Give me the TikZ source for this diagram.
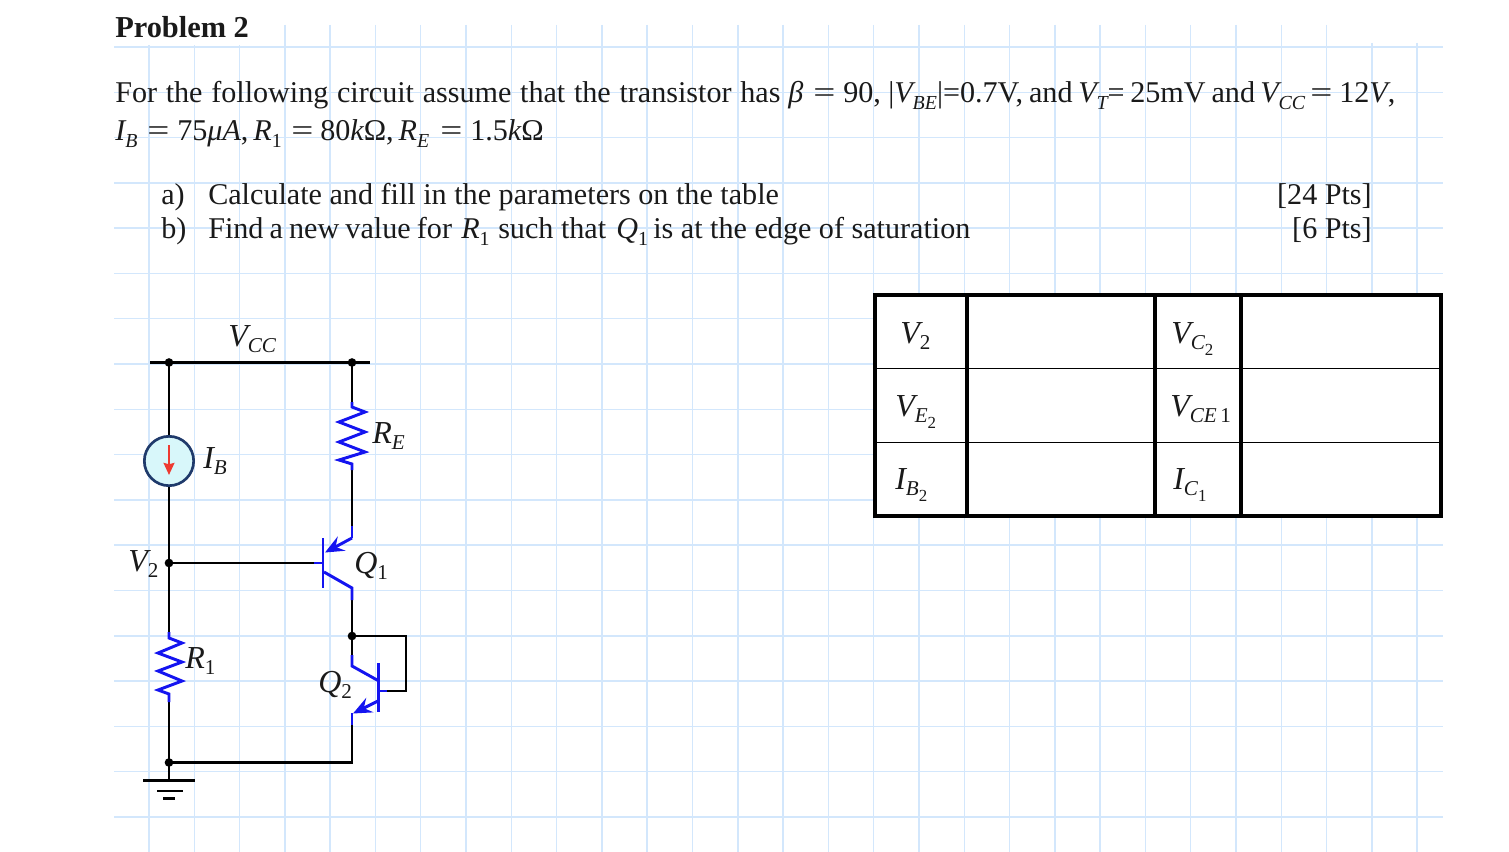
\documentclass[tikz,border=0pt]{standalone}
\usepackage{fontspec}
\usepackage{graphicx}
\setmainfont{Liberation Serif}
\usetikzlibrary{arrows.meta}
\definecolor{gridc}{HTML}{D3E7FC}
\definecolor{zblue}{HTML}{1414F0}
\definecolor{srcfill}{HTML}{D8F7FA}
\definecolor{srcline}{HTML}{1F3A6B}
\definecolor{srcarrow}{HTML}{EE3A30}
\definecolor{inkc}{HTML}{1A1A1A}
\newcommand{\iv}[1]{{\itshape #1}}
\newcommand{\subb}[1]{\raisebox{-0.2em}{\fontsize{0.66em}{1em}\selectfont #1}}
\newcommand{\subi}[1]{\subb{\iv{#1}}}
\newcommand{\subii}[2]{\subb{\iv{#1}\raisebox{-0.3em}{\fontsize{0.8em}{1em}\selectfont #2}}}
\newcommand{\eqs}{\scalebox{1.3}[1]{=}}
\tikzset{
  x=0.75pt,y=-0.75pt,
  gridline/.style={gridc,line width=1.1pt},
  wire/.style={black,line width=2.2pt,line join=miter},
  part/.style={zblue,line width=2.2pt,line join=miter},
  tip/.style={zblue,line width=2.2pt,-{Stealth[length=14pt,width=12pt,inset=5pt]}},
  thickrule/.style={black,line width=2.8pt},
  thinrule/.style={black,line width=0.8pt},
  joint/.style={circle,fill=black,inner sep=0pt,outer sep=0pt,minimum size=6.5pt},
  txt/.style={anchor=base west,inner sep=0pt,text=inkc,font=\fontsize{22.6pt}{24pt}\selectfont},
  tlab/.style={anchor=base west,inner sep=0pt,text=inkc,font=\fontsize{24pt}{26pt}\selectfont},
}
\begin{document}
\begin{tikzpicture}
\useasboundingbox (0,0) rectangle (1509,852);
\fill[white] (0,0) rectangle (1509,852);
% ruled grid
\foreach \k in {0,...,17} \draw[gridline] (114,47+\k*45.29) -- (1443,47+\k*45.29);
\foreach \k in {0,...,26} \draw[gridline] (149+\k*45.29,25) -- (149+\k*45.29,852);
\foreach \k in {27,28} \draw[gridline] (149+\k*45.29,43) -- (149+\k*45.29,852);
% text
\fill[white] (114,10) rectangle (251,45);
\node[txt,font=\fontsize{22.8pt}{24pt}\bfseries\selectfont] (title) at (115,38) {Problem 2};
\node[txt] (l1a) at (115,103) {\spaceskip=6.5pt For the following circuit assume that the transistor has};
\node[txt] (l1b) at (788,103) {\iv{β}};
\node[txt] (l1c) at (813,103) {\eqs};
\node[txt] (l1d) at (843,103) {90,};
\node[txt] (l1e) at (888,103) {\spaceskip=4.5pt |\iv{V}\subi{BE}|=0.7V, and};
\node[txt] (l1f) at (1078,103) {\iv{V}\subi{T}=};
\node[txt] (l1g) at (1130,103) {\spaceskip=4.5pt 25mV and};
\node[txt] (l1h) at (1260,103) {\iv{V}\subi{CC}};
\node[txt] (l1i) at (1310,103) {\eqs};
\node[txt] (l1j) at (1339,103) {12\iv{V},};
\node[txt] (l2a) at (115,141) {\iv{I}\subi{B}};
\node[txt] (l2b) at (147,141) {\eqs};
\node[txt] (l2c) at (177,141) {75\iv{μA},\,\iv{R}\subb{1}};
\node[txt] (l2d) at (291,141) {\eqs};
\node[txt] (l2e) at (320,141) {80\iv{k}Ω,\,\iv{R}\subi{E}};
\node[txt] (l2f) at (440,141) {\eqs};
\node[txt] (l2g) at (470,141) {1.5\iv{k}Ω};
\node[txt] (a1) at (161,205) {a)};
\node[txt] (a2) at (208,205) {Calculate and fill in the parameters on the table};
\node[txt] (b1) at (161,239) {b)};
\node[txt] (b2) at (208,239) {\spaceskip=4.6pt Find a new value for};
\node[txt] (b3) at (461,239) {\iv{R}\subb{1}};
\node[txt] (b4) at (498,239) {such that};
\node[txt] (b5) at (616,239) {\iv{Q}\subb{1}};
\node[txt] (b6) at (653,239) {is at the edge of saturation};
\node[txt,anchor=base east] (p1) at (1372,205) {[24 Pts]};
\node[txt,anchor=base east] (p2) at (1372,239) {[6 Pts]};
% table
\fill[white] (875,295) rectangle (1441,516);
\draw[thinrule] (875,368.5) -- (1441,368.5) (875,442.5) -- (1441,442.5);
\draw[thickrule] (875,295) rectangle (1441,516);
\draw[thickrule] (967,295) -- (967,516) (1155,295) -- (1155,516) (1241,295) -- (1241,516);
\node[tlab] (t1) at (900,343) {\iv{V}\subb{2}};
\node[tlab] (t2) at (895,416) {\iv{V}\subii{E}{2}};
\node[tlab] (t3) at (895,489) {\iv{I}\subii{B}{2}};
\node[tlab] (t4) at (1171,343) {\iv{V}\subii{C}{2}};
\node[tlab] (t5) at (1170,416) {\iv{V}\subb{\iv{CE}\,1}};
\node[tlab] (t6) at (1173,489) {\iv{I}\subii{C}{1}};
% circuit coordinates
\coordinate (railL) at (150,362.5);
\coordinate (railR) at (370,362.5);
\node[joint] (vl) at (169,362.5) {};
\node[joint] (vr) at (352,362.5) {};
\node[joint] (v2) at (169,563) {};
\node[joint] (c2) at (352,636) {};
\node[joint] (gnd) at (169,762.5) {};
\node[circle,draw=srcline,fill=srcfill,line width=2pt,minimum size=37pt,inner sep=0pt] (src) at (169,461) {};
\coordinate (rEt) at (352,402);
\coordinate (rEb) at (352,470);
\coordinate (q1e) at (352,526);
\coordinate (q1b) at (314,563);
\coordinate (q1c) at (352,600);
\coordinate (q2c) at (352,655);
\coordinate (q2e) at (352,725);
\coordinate (q2b) at (387,691);
\coordinate (r1t) at (169,632);
\coordinate (r1b) at (169,702);
\coordinate (loopa) at (406,636);
\coordinate (loopb) at (406,691);
\coordinate (corner) at (352,762.5);
\coordinate (g1) at (169,780.5);
% wires
\draw[wire] (railL) -- (railR);
\draw[wire] (vl.center) -- (src);
\draw[wire] (src) -- (v2.center);
\draw[wire] (v2.center) -- (r1t);
\draw[wire] (r1b) -- (gnd.center);
\draw[wire] (gnd.center) -- (g1);
\draw[wire] (143,780.5) -- (195,780.5);
\draw[wire] (157,791) -- (183,791);
\draw[wire] (163,798.5) -- (175,798.5);
\draw[wire] (vr.center) -- (rEt);
\draw[wire] (rEb) -- (q1e);
\draw[wire] (v2.center) -- (q1b);
\draw[wire] (q1c) -- (c2.center);
\draw[wire] (c2.center) -- (q2c);
\draw[wire] (c2.center) -- (loopa) -- (loopb) -- (q2b);
\draw[wire] (q2e) -- (corner) -- (gnd.center);
% RE
\draw[part] (rEt) -- (352,407) -- (365,412) -- (339,422) -- (365,432) -- (339,442) -- (365,452) -- (339,460) -- (352,464) -- (rEb);
% R1
\draw[part] (r1t) -- (169,638) -- (182,643) -- (158,653) -- (182,662) -- (158,671) -- (182,681) -- (158,690) -- (169,694) -- (r1b);
% Q1
\draw[part] (q1b) -- (323,563);
\draw[part] (323,538) -- (323,588);
\draw[part] (q1e) -- (352,538);
\draw[tip] (352,538) -- (325,552.5);
\draw[part] (324,572) -- (352,588) -- (q1c);
% Q2
\draw[part] (q2b) -- (378.5,691);
\draw[part] (378.5,663) -- (378.5,712);
\draw[part] (q2c) -- (352,666) -- (378,680.5);
\draw[tip] (378,701) -- (353,713.5);
\draw[part] (352,713) -- (q2e);
% source arrow
\draw[srcarrow,line width=2pt,-{Stealth[length=9pt,width=8pt,inset=1pt]}] (169,445) -- (169,475);
% labels
\node[tlab] (lvcc) at (228,346) {\iv{V}\subi{CC}};
\node[tlab] (lv2) at (128,571) {\iv{V}\subb{2}};
\node[tlab] (lib) at (203,468) {\iv{I}\subi{B}};
\node[tlab] (lre) at (372,443) {\iv{R}\subi{E}};
\node[tlab] (lr1) at (185,668) {\iv{R}\subb{1}};
\node[tlab] (lq1) at (354,573) {\iv{Q}\subb{1}};
\node[tlab] (lq2) at (318,692) {\iv{Q}\subb{2}};
\end{tikzpicture}
\end{document}
